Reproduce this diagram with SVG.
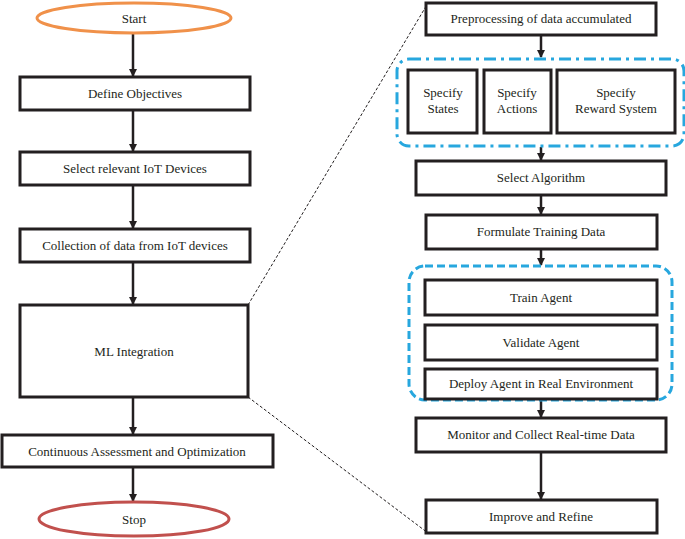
<svg xmlns="http://www.w3.org/2000/svg" width="685" height="539" viewBox="0 0 685 539">
<defs>
<style>
.b{fill:#fff;stroke:#231f20;stroke-width:3}
.t{font-family:"Liberation Serif",serif;font-size:13px;fill:#231f20;text-anchor:middle}
.c{stroke:#231f20;stroke-width:2.5;fill:none;marker-end:url(#a)}
</style>
<marker id="a" markerWidth="8" markerHeight="8" refX="7" refY="4" orient="auto" markerUnits="userSpaceOnUse"><path d="M0,0L8,4L0,8z" fill="#231f20"/></marker>
</defs>
<rect width="685" height="539" fill="#fff"/>
<g id="connectors">
<path class="c" d="M133,34V76"/>
<path class="c" d="M133,111V151"/>
<path class="c" d="M133,186V228"/>
<path class="c" d="M133,263V304"/>
<path class="c" d="M133,398V434"/>
<path class="c" d="M133,468V501"/>
<path class="c" d="M541,36V57"/>
<path class="c" d="M541,147V160"/>
<path class="c" d="M541,196V214"/>
<path class="c" d="M541,250V265"/>
<path class="c" d="M541,401V417"/>
<path class="c" d="M541,453V499"/>
<path d="M248,305L428,3M248,397L428,533" stroke="#231f20" stroke-width="1" stroke-dasharray="3,2" fill="none"/>
<rect x="397" y="59" width="287" height="87" rx="12" fill="none" stroke="#27a7de" stroke-width="3" stroke-dasharray="12,5,3,5"/>
<rect x="409" y="266" width="263" height="134" rx="16" fill="none" stroke="#27a7de" stroke-width="3" stroke-dasharray="8,4"/>
</g>
<g id="start"><ellipse cx="134" cy="18" rx="97" ry="15" fill="#fff" stroke="#f0914a" stroke-width="3"/><text class="t" x="134" y="23">Start</text></g>
<g id="n1"><rect class="b" x="20" y="77" width="230" height="33"/><text class="t" x="135" y="98">Define Objectives</text></g>
<g id="n2"><rect class="b" x="20" y="152" width="230" height="33"/><text class="t" x="135" y="173">Select relevant IoT Devices</text></g>
<g id="n3"><rect class="b" x="20" y="229" width="230" height="33"/><text class="t" x="135" y="250">Collection of data from IoT devices</text></g>
<g id="n4"><rect class="b" x="20" y="305" width="228" height="92"/><text class="t" x="134" y="356">ML Integration</text></g>
<g id="n5"><rect class="b" x="2" y="435" width="271" height="32"/><text class="t" x="137" y="456">Continuous Assessment and Optimization</text></g>
<g id="stop"><ellipse cx="134" cy="519" rx="95" ry="17" fill="#fff" stroke="#c1504d" stroke-width="3"/><text class="t" x="134" y="524">Stop</text></g>
<g id="r1"><rect class="b" x="426" y="3" width="230" height="32"/><text class="t" x="541" y="23">Preprocessing of data accumulated</text></g>
<g id="r2"><rect class="b" x="408" y="70" width="69" height="63"/><text class="t" x="443" y="97">Specify</text><text class="t" x="443" y="113">States</text></g>
<g id="r3"><rect class="b" x="484" y="70" width="67" height="63"/><text class="t" x="517" y="97">Specify</text><text class="t" x="517" y="113">Actions</text></g>
<g id="r4"><rect class="b" x="557" y="70" width="118" height="63"/><text class="t" x="616" y="97">Specify</text><text class="t" x="616" y="113">Reward System</text></g>
<g id="r5"><rect class="b" x="416" y="161" width="250" height="34"/><text class="t" x="541" y="182">Select Algorithm</text></g>
<g id="r6"><rect class="b" x="426" y="215" width="231" height="34"/><text class="t" x="541" y="236">Formulate Training Data</text></g>
<g id="r7"><rect class="b" x="425" y="280" width="232" height="35"/><text class="t" x="541" y="302">Train Agent</text></g>
<g id="r8"><rect class="b" x="425" y="325" width="232" height="35"/><text class="t" x="541" y="347">Validate Agent</text></g>
<g id="r9"><rect class="b" x="425" y="369" width="232" height="30"/><text class="t" x="541" y="388">Deploy Agent in Real Environment</text></g>
<g id="r10"><rect class="b" x="416" y="418" width="250" height="34"/><text class="t" x="541" y="439">Monitor and Collect Real-time Data</text></g>
<g id="r11"><rect class="b" x="426" y="500" width="231" height="33"/><text class="t" x="541" y="521">Improve and Refine</text></g>
</svg>
